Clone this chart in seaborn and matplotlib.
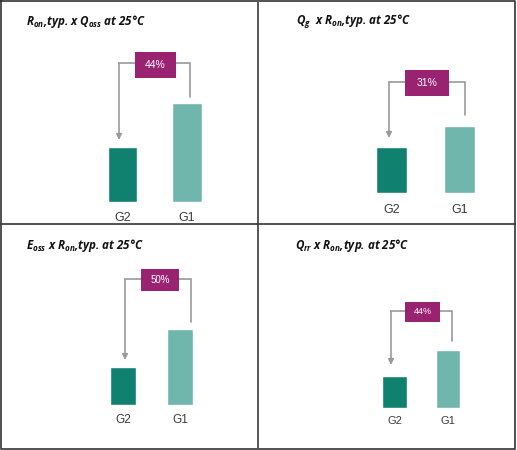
import matplotlib
matplotlib.use("Agg")
import matplotlib.pyplot as plt
from matplotlib.patches import Rectangle
import seaborn as sns

# data
categories = ["G2", "G1"]
g1_values = [100, 100, 100, 100]
g2_values = [56, 69, 50, 56]
reductions = ["44%", "31%", "50%", "44%"]
titles = [
    r"$R_{on}$,typ. x $Q_{oss}$ at 25°C",
    r"$Q_g$  x $R_{on}$,typ. at 25°C",
    r"$E_{oss}$ x $R_{on}$,typ. at 25°C",
    r"$Q_{rr}$ x $R_{on}$,typ. at 25°C",
]

layout = [
    dict(g2c=122.5, g1c=187.0, base=202, g1px=99, brk=63, arr_x=119, g1_x=190, tip=140, g1_end=97,
         box=(135, 52, 41, 26), pad=7.5, lab=9, pct=7.5, title=(26, 22)),
    dict(g2c=391.5, g1c=459.5, base=193, g1px=67, brk=82, arr_x=389, g1_x=465, tip=138, g1_end=115,
         box=(405, 70, 44, 26), pad=8.0, lab=9, pct=7.5, title=(296, 22)),
    dict(g2c=123.0, g1c=180.0, base=405, g1px=76, brk=279, arr_x=125, g1_x=191, tip=360, g1_end=322,
         box=(141, 269, 38, 22), pad=6.5, lab=8.5, pct=7, title=(26, 245)),
    dict(g2c=394.5, g1c=448.0, base=408, g1px=58, brk=311, arr_x=391, g1_x=452, tip=365, g1_end=341,
         box=(405, 302, 35, 20), pad=5.5, lab=8, pct=6.5, title=(295, 245)),
]

DARK = "#10806f"
LIGHT = "#70b6ad"
MAGENTA = "#992370"
GRAY = "#9a9a9a"
W, H = 517, 450

sns.set_theme(style="white")
plt.rcParams["font.family"] = ["Liberation Sans", "DejaVu Sans"]
plt.rcParams["mathtext.fontset"] = "custom"
plt.rcParams["mathtext.it"] = "Open Sans:italic:bold"
plt.rcParams["mathtext.rm"] = "Open Sans:bold"

fig = plt.figure(figsize=(W / 100, H / 100), dpi=100)
fig.patch.set_facecolor("white")

# frame + titles in pixel space
bg = fig.add_axes([0, 0, 1, 1])
bg.set_xlim(0, W)
bg.set_ylim(H, 0)
bg.axis("off")
bg.plot([1, 515, 515, 1, 1], [1, 1, 449, 449, 1], color="#333333", lw=1.2)
bg.plot([258, 258], [1, 449], color="#555555", lw=1.4)
bg.plot([1, 515], [224, 224], color="#333333", lw=1.2)

for i, lay in enumerate(layout):
    tx, ty = lay["title"]
    bg.text(tx, ty, titles[i], ha="left", va="center", fontsize=8.4,
            family=["Open Sans", "DejaVu Sans"], fontweight="bold", fontstyle="italic",
            color="#111111")

    sp = lay["g1c"] - lay["g2c"]
    scale = lay["g1px"] / g1_values[i]
    span = 170
    ax = fig.add_axes([(lay["g2c"] - sp / 2) / W, 1 - lay["base"] / H, 2 * sp / W, span / H])
    ax.patch.set_alpha(0)
    sns.barplot(x=categories, y=[g2_values[i], g1_values[i]], hue=categories,
                palette=[DARK, LIGHT], width=0.45, saturation=1, legend=False, ax=ax)
    ax.set_xlim(-0.5, 1.5)
    ax.set_ylim(0, span / scale)
    sns.despine(ax=ax, left=True, bottom=True)
    ax.set_yticks([])
    ax.set_xlabel("")
    ax.set_ylabel("")
    ax.tick_params(axis="x", length=0, pad=lay["pad"], labelsize=lay["lab"], labelcolor="#3a3a3a")

    def dx(px):
        return (px - lay["g2c"]) / sp

    def dy(py):
        return (lay["base"] - py) / scale

    # bracket
    ax.plot([dx(lay["g1_x"]), dx(lay["g1_x"]), dx(lay["arr_x"])],
            [dy(lay["g1_end"]), dy(lay["brk"]), dy(lay["brk"])],
            color=GRAY, lw=1.2, clip_on=False, solid_joinstyle="miter")
    ax.annotate("", xy=(dx(lay["arr_x"]), dy(lay["tip"])), xytext=(dx(lay["arr_x"]), dy(lay["brk"])),
                arrowprops=dict(arrowstyle="-|>", color=GRAY, lw=1.2, mutation_scale=8,
                                shrinkA=0, shrinkB=0), annotation_clip=False)
    bx, by, bw, bh = lay["box"]
    ax.add_patch(Rectangle((dx(bx), dy(by + bh)), bw / sp, bh / scale,
                           facecolor=MAGENTA, edgecolor="none", clip_on=False, zorder=5))
    ax.text(dx(bx + bw / 2), dy(by + bh / 2), reductions[i], ha="center", va="center",
            color="white", fontsize=lay["pct"], zorder=6)

fig.savefig("out.png", dpi=100, facecolor="white")
